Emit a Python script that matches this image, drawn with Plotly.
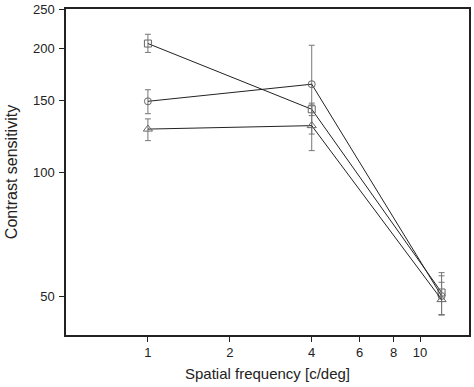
import plotly.graph_objects as go

freq = [1, 4, 12]
square_vals = [206, 142.5, 51]
square_plus = [11, 5, 6]
square_minus = [10, 5, 6]
circle_vals = [149, 164, 50]
circle_plus = [10, 40, 6]
circle_minus = [10, 40, 5]
triangle_vals = [127.5, 130, 49]
triangle_plus = [7.5, 16, 5]
triangle_minus = [8, 17, 4]

x_ticks = [1, 2, 4, 6, 8, 10]
y_ticks = [50, 100, 150, 200, 250]

fig = go.Figure()

series = [
    (square_vals, square_plus, square_minus, "square-open", 7),
    (circle_vals, circle_plus, circle_minus, "circle-open", 7),
    (triangle_vals, triangle_plus, triangle_minus, "triangle-up-open", 8),
]
for vals, ep, em, sym, sz in series:
    fig.add_trace(go.Scatter(
        x=freq, y=vals, mode="lines+markers",
        line=dict(color="#222222", width=1),
        marker=dict(symbol=sym, size=sz, color="#666666", line=dict(width=1, color="#666666")),
        error_y=dict(type="data", array=ep, arrayminus=em, color="#777777", thickness=1, width=3),
        showlegend=False,
    ))

fig.update_layout(
    width=474, height=387,
    margin=dict(l=66, r=5, t=9, b=52, autoexpand=False),
    plot_bgcolor="white", paper_bgcolor="white",
    font=dict(family="Liberation Sans, Arial, sans-serif", size=13, color="#222222"),
)
fig.update_xaxes(
    type="log", range=[-0.301, 1.18], automargin=False,
    tickvals=x_ticks, ticktext=[str(v) for v in x_ticks],
    ticks="outside", ticklen=5, tickcolor="#222222", ticklabelstandoff=0,
    showline=True, linecolor="#222222", linewidth=1.5, mirror=True,
    showgrid=False, zeroline=False,
    title=dict(text="Spatial frequency [c/deg]", font=dict(size=15), standoff=9),
)
fig.update_yaxes(
    type="log", range=[1.604, 2.398], automargin=False,
    tickvals=y_ticks, ticktext=[str(v) for v in y_ticks],
    ticks="outside", ticklen=5, tickcolor="#222222", ticklabelstandoff=2,
    showline=True, linecolor="#222222", linewidth=1.5, mirror=True,
    showgrid=False, zeroline=False,
    title=dict(text="Contrast sensitivity", font=dict(size=16), standoff=11),
)

fig.write_html("out.html", post_script="document.body.style.margin='0';",
               config={"displayModeBar": False})
